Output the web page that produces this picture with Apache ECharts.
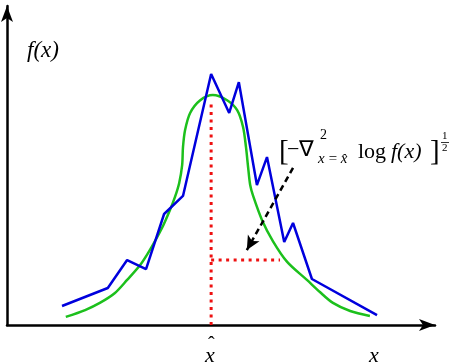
<!DOCTYPE html>
<html>
<head>
<meta charset="utf-8">
<script src="https://cdn.jsdelivr.net/npm/echarts@6/dist/echarts.min.js"></script>
<style>html,body{margin:0;padding:0;background:#fff}#c{width:474px;height:363px}</style>
</head>
<body>
<div id="c"></div>
<script>
// Empirical (noisy) density: blue polyline
const blueX = [1.31, 2.40, 2.86, 3.31, 3.74, 4.19, 4.86, 5.29, 5.52, 5.95, 6.19, 6.60, 6.81, 7.26, 8.81];
const blueY = [0.061, 0.119, 0.209, 0.180, 0.357, 0.415, 0.807, 0.682, 0.781, 0.450, 0.540, 0.267, 0.328, 0.148, 0.032];
// Smooth approximation: green curve
const greenX = [1.40, 1.86, 2.21, 2.57, 2.86, 3.17, 3.40, 3.69, 3.88, 4.00, 4.10, 4.17, 4.19, 4.24, 4.36, 4.60, 4.90, 5.24, 5.48, 5.62, 5.69, 5.74, 5.79, 5.86, 6.07, 6.33, 6.67, 7.14, 7.45, 7.76, 8.17, 8.64];
const greenY = [0.026, 0.048, 0.071, 0.103, 0.145, 0.193, 0.241, 0.312, 0.370, 0.412, 0.457, 0.514, 0.572, 0.627, 0.682, 0.723, 0.740, 0.723, 0.691, 0.637, 0.572, 0.508, 0.450, 0.415, 0.338, 0.270, 0.203, 0.145, 0.106, 0.071, 0.045, 0.029];
// Mode marker and curvature width marker
const modeX = 4.86, modeTop = 0.714;
const widthY = 0.209, widthEndX = 6.50;
// Annotation arrow (start -> tip)
const arrowFrom = [6.81, 0.505], arrowTo = [5.71, 0.241];
// Axis extents (arrow tips)
const xMax = 10.19, yMax = 1.026;
// Labels
const yLabel = 'f(x)', xLabel = 'x', modeLabel = 'x';

const zip = (xs, ys) => xs.map((x, i) => [x, ys[i]]);
const chart = echarts.init(document.getElementById('c'), null, {renderer: 'canvas'});
const serif = 'Liberation Serif';
const red = '#ee1111';
const axisCommon = {
  type: 'value', axisTick: {show: false}, axisLabel: {show: false}, splitLine: {show: false},
  axisLine: {show: true, symbol: ['none', 'arrow'], symbolSize: [9, 16], lineStyle: {color: '#000', width: 2.5}}
};
function lbl(text, left, top, size, italic) {
  return {text: text, left: left, top: top, padding: 0, z: 10,
    textStyle: {fontFamily: serif, fontSize: size, fontStyle: italic ? 'italic' : 'normal', fontWeight: 'normal', color: '#000'}};
}
chart.setOption({
  animation: false,
  title: [
    lbl(yLabel, 27, 39, 23, true),
    lbl(xLabel, 369, 345, 22, true),
    lbl(modeLabel, 205, 345, 22, true),
    lbl('\u02C6', 208, 336, 20, false),
    lbl('[', 279, 138, 29, false),
    lbl('\u2212\u2207', 287, 139, 22, false),
    lbl('2', 320, 128, 14, false),
    lbl('x\u2009=\u2009x\u0302', 318, 152, 15, true),
    lbl('log', 358, 141, 22, false),
    lbl('f(x)', 391, 141, 22, true),
    lbl(']', 430, 138, 29, false),
    lbl('1', 442, 131, 11, false),
    lbl('2', 442, 143, 11, false)
  ],
  grid: {left: 7, top: 6, right: 39, bottom: 38},
  xAxis: Object.assign({}, axisCommon, {min: 0, max: xMax}),
  yAxis: Object.assign({}, axisCommon, {min: 0, max: yMax}),
  series: [
    {type: 'line', data: zip(blueX, blueY), showSymbol: false, lineStyle: {color: '#0000dd', width: 2.5}, z: 3},
    {type: 'line', data: zip(greenX, greenY), showSymbol: false, smooth: 0.3, lineStyle: {color: '#1cc01c', width: 2.5}, z: 2,
     markLine: {silent: true, animation: false, symbol: ['none', 'arrow'], symbolSize: [10, 14], label: {show: false},
       lineStyle: {color: '#000', width: 2.5, type: [6, 4]},
       data: [[{coord: arrowFrom}, {coord: arrowTo}]]}},
    {type: 'line', data: [[modeX, 0], [modeX, modeTop]], showSymbol: false, lineStyle: {color: red, width: 3, type: [3, 4.5]}, z: 1},
    {type: 'line', data: [[modeX, widthY], [widthEndX, widthY]], showSymbol: false, lineStyle: {color: red, width: 3, type: [3, 4.5]}, z: 1}
  ],
  graphic: [
    {type: 'line', z: 100, shape: {x1: 441, y1: 142.5, x2: 449, y2: 142.5}, style: {stroke: '#000', lineWidth: 0.8}}
  ]
});
</script>
</body>
</html>
